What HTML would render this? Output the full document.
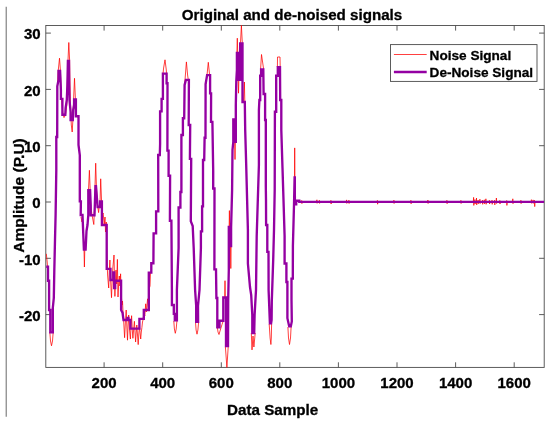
<!DOCTYPE html>
<html><head><meta charset="utf-8"><title>Original and de-noised signals</title>
<style>html,body{margin:0;padding:0;background:#fff}body{width:550px;height:424px;position:relative;overflow:hidden}</style></head>
<body>
<svg width="550" height="424" viewBox="0 0 550 424" style="position:absolute;left:0;top:0">
<defs><clipPath id="c"><rect x="45.8" y="25.0" width="498.4" height="342.9"/></clipPath></defs>
<rect x="0" y="0" width="550" height="424" fill="#fff"/>
<line x1="6.25" y1="6.8" x2="6.25" y2="416.8" stroke="#8c8c8c" stroke-width="1.3"/>
<rect x="45.8" y="25.5" width="498.4" height="341.9" fill="none" stroke="#4a4a4a" stroke-width="0.9"/>
<path d="M104.1 367.4v-5.1M104.1 25.5v5.1" stroke="#4a4a4a" stroke-width="0.9"/>
<path d="M162.7 367.4v-5.1M162.7 25.5v5.1" stroke="#4a4a4a" stroke-width="0.9"/>
<path d="M221.3 367.4v-5.1M221.3 25.5v5.1" stroke="#4a4a4a" stroke-width="0.9"/>
<path d="M279.8 367.4v-5.1M279.8 25.5v5.1" stroke="#4a4a4a" stroke-width="0.9"/>
<path d="M338.4 367.4v-5.1M338.4 25.5v5.1" stroke="#4a4a4a" stroke-width="0.9"/>
<path d="M397.0 367.4v-5.1M397.0 25.5v5.1" stroke="#4a4a4a" stroke-width="0.9"/>
<path d="M455.6 367.4v-5.1M455.6 25.5v5.1" stroke="#4a4a4a" stroke-width="0.9"/>
<path d="M514.2 367.4v-5.1M514.2 25.5v5.1" stroke="#4a4a4a" stroke-width="0.9"/>
<path d="M45.8 314.6h5.1M544.2 314.6h-5.1" stroke="#4a4a4a" stroke-width="0.9"/>
<path d="M45.8 258.3h5.1M544.2 258.3h-5.1" stroke="#4a4a4a" stroke-width="0.9"/>
<path d="M45.8 202.0h5.1M544.2 202.0h-5.1" stroke="#4a4a4a" stroke-width="0.9"/>
<path d="M45.8 145.7h5.1M544.2 145.7h-5.1" stroke="#4a4a4a" stroke-width="0.9"/>
<path d="M45.8 89.4h5.1M544.2 89.4h-5.1" stroke="#4a4a4a" stroke-width="0.9"/>
<path d="M45.8 33.1h5.1M544.2 33.1h-5.1" stroke="#4a4a4a" stroke-width="0.9"/>
<g clip-path="url(#c)" fill="none" stroke-linejoin="miter">
<polyline points="46.3,253.8 47.2,262.0 47.6,268.0" stroke="#ff0000" stroke-width="0.75"/>
<polyline points="49.8,332.0 50.5,341.0 51.5,345.8 52.5,341.0 53.2,332.0" stroke="#ff0000" stroke-width="0.75"/>
<polyline points="57.4,86.0 58.3,70.0 59.5,58.2 60.4,70.0 61.0,90.0 62.0,105.0 63.0,114.0 64.0,117.6 65.5,115.0 66.8,105.0 67.4,80.0 68.0,60.0 68.8,42.5 69.6,60.0 69.9,80.0 70.5,105.0 71.3,125.0 72.2,132.0 73.0,118.0 73.6,99.0 74.5,78.3 75.4,99.0 76.2,114.0 77.5,116.0" stroke="#ff0000" stroke-width="0.75"/>
<polyline points="81.0,217.0 82.0,222.0 82.6,215.0" stroke="#ff0000" stroke-width="0.75"/>
<polyline points="84.0,249.0 84.4,267.0 84.8,249.0" stroke="#ff0000" stroke-width="0.75"/>
<polyline points="88.3,192.0 88.6,188.0 89.4,170.3 90.1,188.0 90.7,205.0 92.0,215.0 93.8,224.5 94.6,205.0 95.0,186.0 95.7,163.2 96.4,186.0 97.3,203.0 98.6,212.6 99.6,203.0 100.1,200.0 100.7,178.8 101.5,200.0 102.0,215.0 103.2,213.0 104.2,225.0 105.0,217.0 105.5,232.0 106.3,222.0 106.7,250.0 107.6,275.0 108.7,288.0 109.3,270.0 109.9,260.0 110.6,280.0 111.5,297.7 112.2,280.0 112.8,268.0 113.4,262.0 114.0,255.0 114.4,275.0 114.9,296.4 115.5,280.0 116.0,270.0 116.7,284.0 117.4,259.4 117.7,280.0 118.0,297.0 118.6,284.0 119.3,276.0 119.9,286.0 120.6,273.8 121.3,295.0 122.0,305.0 122.5,301.0 123.0,312.0 123.5,318.0 124.6,337.7 125.4,322.0 126.2,310.0 126.9,328.0 127.5,340.2 128.1,325.0 128.7,315.0 129.5,330.0 130.4,339.0 131.0,326.0 131.6,315.7 132.3,330.0 132.9,338.3 133.6,330.0 134.4,321.3 135.0,332.0 135.6,342.0 136.2,333.0 136.8,325.0 137.5,335.0 138.2,344.6 138.8,334.0 139.5,326.0 140.1,333.0 140.7,339.0 141.3,332.0 141.9,327.6 142.5,322.0 143.0,320.0 144.0,312.0 144.8,316.0 145.7,303.8 146.3,312.0 147.6,298.8 148.4,310.0" stroke="#ff0000" stroke-width="0.75"/>
<polyline points="148.8,290.0 150.0,286.0 150.5,272.0" stroke="#ff0000" stroke-width="0.75"/>
<polyline points="162.9,75.0 163.6,68.0 165.0,59.8 166.3,70.0 166.8,80.0" stroke="#ff0000" stroke-width="0.75"/>
<polyline points="173.8,321.0 174.4,329.0 175.3,333.3 176.2,329.0 176.9,321.0" stroke="#ff0000" stroke-width="0.75"/>
<polyline points="184.6,85.0 185.4,75.0 186.4,61.9 187.6,75.0 188.6,82.0" stroke="#ff0000" stroke-width="0.75"/>
<polyline points="195.5,322.0 196.1,330.0 197.0,334.2 197.9,330.0 198.6,322.0" stroke="#ff0000" stroke-width="0.75"/>
<polyline points="206.0,84.0 207.0,75.0 208.3,62.3 209.6,75.0 210.3,80.0" stroke="#ff0000" stroke-width="0.75"/>
<polyline points="217.3,327.0 218.0,332.0 219.0,334.5 220.0,331.0 222.0,324.5 223.3,320.7" stroke="#ff0000" stroke-width="0.75"/>
<polyline points="224.7,297.5 225.0,280.7 225.3,297.5" stroke="#ff0000" stroke-width="0.75"/>
<polyline points="225.4,347.0 226.9,367.4 228.2,347.0" stroke="#ff0000" stroke-width="0.75"/>
<polyline points="229.1,230.0 229.4,210.6 229.7,230.0" stroke="#ff0000" stroke-width="0.75"/>
<polyline points="230.5,246.0 230.8,268.5 231.1,246.0" stroke="#ff0000" stroke-width="0.75"/>
<polyline points="234.7,141.9 235.0,159.5 235.3,141.9" stroke="#ff0000" stroke-width="0.75"/>
<polyline points="236.9,53.0 237.3,38.2 237.7,53.0" stroke="#ff0000" stroke-width="0.75"/>
<polyline points="238.1,79.0 238.5,93.2 238.9,79.0" stroke="#ff0000" stroke-width="0.75"/>
<polyline points="240.5,43.0 241.4,25.4 242.3,43.0" stroke="#ff0000" stroke-width="0.75"/>
<polyline points="243.4,102.0 244.4,82.0 244.8,102.0" stroke="#ff0000" stroke-width="0.75"/>
<polyline points="251.3,333.0 252.0,349.9 253.0,336.0 253.9,347.0 255.2,333.0" stroke="#ff0000" stroke-width="0.75"/>
<polyline points="260.6,69.0 261.5,54.5 263.6,69.0" stroke="#ff0000" stroke-width="0.75"/>
<polyline points="269.2,324.0 270.1,338.0 270.9,344.5 271.3,338.0 271.6,324.0" stroke="#ff0000" stroke-width="0.75"/>
<polyline points="277.4,67.0 277.5,57.0 280.0,57.0 280.2,67.0" stroke="#ff0000" stroke-width="0.75"/>
<polyline points="287.9,327.0 288.5,338.0 289.5,344.5 290.5,338.0 291.1,327.0" stroke="#ff0000" stroke-width="0.75"/>
<polyline points="294.5,178.0 294.7,147.9 294.9,178.0" stroke="#ff0000" stroke-width="0.75"/>
<polyline points="473.3,201.9 473.6,197.4 473.8,205.4 474.1,201.9" stroke="#ff0000" stroke-width="0.75"/>
<polyline points="474.6,201.9 474.9,199.5 475.1,204.0 475.4,201.9" stroke="#ff0000" stroke-width="0.75"/>
<polyline points="476.2,201.9 476.5,198.0 476.7,204.9 477.0,201.9" stroke="#ff0000" stroke-width="0.75"/>
<polyline points="477.8,201.9 478.1,200.0 478.3,203.8 478.6,201.9" stroke="#ff0000" stroke-width="0.75"/>
<polyline points="479.6,201.9 479.9,199.2 480.1,203.6 480.4,201.9" stroke="#ff0000" stroke-width="0.75"/>
<polyline points="482.2,201.9 482.5,200.2 482.7,204.3 483.0,201.9" stroke="#ff0000" stroke-width="0.75"/>
<polyline points="484.0,201.9 484.3,199.8 484.5,203.8 484.8,201.9" stroke="#ff0000" stroke-width="0.75"/>
<polyline points="485.6,201.9 485.9,198.8 486.1,204.3 486.4,201.9" stroke="#ff0000" stroke-width="0.75"/>
<polyline points="489.1,201.9 489.4,200.3 489.6,204.0 489.9,201.9" stroke="#ff0000" stroke-width="0.75"/>
<polyline points="491.8,201.9 492.0,200.2 492.2,204.3 492.5,201.9" stroke="#ff0000" stroke-width="0.75"/>
<polyline points="494.3,201.9 494.6,200.2 494.8,204.9 495.1,201.9" stroke="#ff0000" stroke-width="0.75"/>
<polyline points="496.1,201.9 496.4,198.0 496.6,203.5 496.9,201.9" stroke="#ff0000" stroke-width="0.75"/>
<polyline points="499.5,201.9 499.8,200.4 500.0,204.0 500.2,201.9" stroke="#ff0000" stroke-width="0.75"/>
<polyline points="506.4,201.9 506.7,200.5 506.9,205.4 507.2,201.9" stroke="#ff0000" stroke-width="0.75"/>
<polyline points="512.5,201.9 512.8,198.8 513.0,203.7 513.2,201.9" stroke="#ff0000" stroke-width="0.75"/>
<polyline points="531.1,201.9 531.4,199.7 531.6,203.3 531.9,201.9" stroke="#ff0000" stroke-width="0.75"/>
<polyline points="532.9,201.9 533.1,199.9 533.3,203.4 533.6,201.9" stroke="#ff0000" stroke-width="0.75"/>
<polyline points="534.2,201.9 534.5,200.3 534.7,206.6 535.0,201.9" stroke="#ff0000" stroke-width="0.75"/>
<polyline points="301.4,201.9 301.7,200.5 301.9,203.6 302.2,201.9" stroke="#ff0000" stroke-width="0.75"/>
<polyline points="316.6,201.9 316.9,199.8 317.1,203.3 317.4,201.9" stroke="#ff0000" stroke-width="0.75"/>
<polyline points="319.1,201.9 319.4,200.3 319.6,203.4 319.9,201.9" stroke="#ff0000" stroke-width="0.75"/>
<polyline points="330.6,201.9 330.9,200.4 331.1,204.0 331.4,201.9" stroke="#ff0000" stroke-width="0.75"/>
<polyline points="346.3,201.9 346.6,199.9 346.8,203.4 347.1,201.9" stroke="#ff0000" stroke-width="0.75"/>
<polyline points="348.6,201.9 348.9,200.2 349.1,203.5 349.4,201.9" stroke="#ff0000" stroke-width="0.75"/>
<polyline points="377.1,201.9 377.4,200.4 377.6,204.2 377.9,201.9" stroke="#ff0000" stroke-width="0.75"/>
<polyline points="393.6,201.9 393.9,200.2 394.1,203.5 394.4,201.9" stroke="#ff0000" stroke-width="0.75"/>
<polyline points="410.6,201.9 410.9,200.3 411.1,203.8 411.4,201.9" stroke="#ff0000" stroke-width="0.75"/>
<polyline points="427.6,201.9 427.9,200.0 428.1,203.5 428.4,201.9" stroke="#ff0000" stroke-width="0.75"/>
<polyline points="446.6,201.9 446.9,200.3 447.1,203.7 447.4,201.9" stroke="#ff0000" stroke-width="0.75"/>
<polyline points="460.6,201.9 460.9,200.4 461.1,203.5 461.4,201.9" stroke="#ff0000" stroke-width="0.75"/>
<polyline points="520.6,201.9 520.9,200.3 521.1,203.6 521.4,201.9" stroke="#ff0000" stroke-width="0.75"/>
<polyline points="46.2,266.7 48.0,266.7 48.0,280.7 49.1,280.7 49.1,310.0 50.3,310.0 50.3,332.3 52.8,332.3 52.8,308.0 53.8,298.0 54.3,271.0 55.0,240.0 55.6,215.0 56.3,170.0 56.3,137.0 57.2,137.0 57.3,86.4 58.5,80.0 58.5,70.8 60.1,70.8 60.5,80.0 60.9,90.0 60.9,98.8 62.4,98.8 62.4,114.7 65.3,114.7 65.6,108.0 66.8,100.0 67.4,85.0 67.9,60.8 69.0,60.8 69.2,85.0 69.5,100.0 70.6,112.0 70.6,120.0 72.8,120.0 73.2,110.0 74.1,105.0 74.1,99.4 75.9,99.4 75.9,116.2 78.5,116.2 78.5,145.0 79.8,155.0 79.8,201.4 80.9,201.4 80.7,215.0 82.5,215.0 83.9,249.5 85.6,249.5 86.5,231.0 87.5,225.0 88.3,215.0 88.3,190.1 90.1,190.1 90.7,205.0 90.7,215.2 94.5,215.2 95.0,200.0 95.5,186.1 96.0,186.1 97.6,207.0 100.1,207.0 100.1,201.4 101.9,201.4 101.9,225.0 106.7,225.0 106.7,268.8 110.5,268.8 110.5,280.0 113.3,280.0 113.3,272.3 114.2,272.3 114.2,288.0 115.2,288.0 115.2,280.7 121.1,280.7 121.1,310.0 122.5,312.6 123.5,320.0 127.4,320.0 127.4,317.8 128.4,317.8 128.4,320.0 130.4,320.0 130.4,328.6 139.4,328.6 139.4,318.8 143.8,318.8 143.8,310.0 148.8,310.0 148.8,272.6 151.3,272.6 151.3,263.2 153.4,263.2 153.6,233.3 156.1,233.3 156.1,211.3 158.3,211.3 158.2,155.0 159.8,155.0 160.1,144.0 160.1,111.3 161.6,111.3 161.6,98.8 162.9,98.8 162.9,73.6 166.6,73.6 166.6,83.2 167.5,83.2 167.4,150.6 168.6,150.6 168.6,175.7 170.1,175.7 169.9,220.7 171.4,220.7 171.9,290.0 171.9,305.0 173.8,305.0 173.8,313.8 174.8,313.8 174.8,320.4 176.9,320.4 176.9,290.0 178.6,248.0 178.6,207.5 180.4,207.5 180.4,192.0 181.4,192.0 181.4,135.0 182.9,135.0 182.9,118.2 184.2,118.2 184.6,85.0 185.9,79.9 188.9,79.9 188.7,125.0 190.2,125.0 189.9,158.8 191.2,158.8 190.8,221.3 192.7,226.0 193.7,248.0 195.1,290.0 196.2,306.0 196.2,321.9 198.1,321.9 198.0,306.0 199.5,290.0 200.9,248.0 200.9,231.4 202.1,231.4 202.1,206.3 203.0,206.3 203.0,160.0 204.2,160.0 204.6,137.7 205.5,137.7 205.6,84.0 207.1,75.1 210.1,75.1 210.1,93.3 211.1,93.3 211.0,121.8 212.4,121.8 213.2,171.0 213.2,188.5 214.5,188.5 214.4,269.4 216.0,269.4 216.4,298.0 217.3,298.0 217.3,327.3 219.5,327.3 219.5,320.7 223.3,320.7 223.3,297.5 226.0,297.5 226.0,346.0 228.0,346.0 228.2,300.0 228.8,270.0 228.8,227.0 230.0,227.0 230.0,246.0 231.1,246.0 231.1,227.0 232.1,190.0 232.5,150.0 233.3,141.9 233.3,119.3 234.6,119.3 234.6,141.9 235.8,141.9 235.8,105.0 236.3,81.0 236.9,70.0 236.9,53.0 238.2,53.0 238.2,79.7 240.2,79.7 240.2,43.3 242.5,43.3 242.5,102.0 244.8,102.0 245.2,130.0 246.2,165.0 247.9,230.0 247.9,263.5 250.0,287.0 251.2,295.0 252.3,315.0 252.3,333.0 254.2,333.0 254.6,315.0 256.0,290.0 256.7,236.0 258.9,165.0 258.9,110.0 259.4,100.0 260.2,100.0 260.2,75.7 261.1,75.7 261.1,69.3 263.3,69.3 263.6,94.0 265.1,94.0 265.1,120.0 265.8,120.0 265.8,186.0 266.0,200.0 266.1,225.0 267.3,225.0 267.3,251.8 268.5,251.8 268.6,290.0 269.9,323.4 271.1,323.4 271.6,320.0 271.8,301.0 273.2,260.0 274.0,230.0 274.7,190.0 274.9,111.7 276.2,111.7 276.2,75.7 277.8,75.7 277.8,67.2 280.0,67.2 280.2,100.0 281.3,100.0 281.3,130.0 282.5,168.0 283.5,200.0 284.6,236.0 284.6,263.5 286.4,263.5 286.4,282.0 287.4,282.0 287.4,318.2 289.2,326.4 290.8,326.4 291.8,321.4 291.5,300.0 291.5,278.6 292.8,278.6 292.9,246.0 294.0,205.0 294.6,177.5 294.8,177.5 294.9,204.2 296.2,204.2 296.2,200.7 299.3,200.7 299.3,201.9 544.0,201.9" stroke="#9400a2" stroke-width="2.35"/>
</g>
<g style="font-family:'Liberation Sans',sans-serif" font-weight="bold" fill="#000" stroke="#000" stroke-width="0.3">
<text x="104.1" y="388.0" font-size="15.0" text-anchor="middle">200</text>
<text x="162.7" y="388.0" font-size="15.0" text-anchor="middle">400</text>
<text x="221.3" y="388.0" font-size="15.0" text-anchor="middle">600</text>
<text x="279.8" y="388.0" font-size="15.0" text-anchor="middle">800</text>
<text x="338.4" y="388.0" font-size="15.0" text-anchor="middle">1000</text>
<text x="397.0" y="388.0" font-size="15.0" text-anchor="middle">1200</text>
<text x="455.6" y="388.0" font-size="15.0" text-anchor="middle">1400</text>
<text x="514.2" y="388.0" font-size="15.0" text-anchor="middle">1600</text>
<text x="40.7" y="320.8" font-size="15.0" text-anchor="end">-20</text>
<text x="40.7" y="264.5" font-size="15.0" text-anchor="end">-10</text>
<text x="40.7" y="208.2" font-size="15.0" text-anchor="end">0</text>
<text x="40.7" y="151.9" font-size="15.0" text-anchor="end">10</text>
<text x="40.7" y="95.6" font-size="15.0" text-anchor="end">20</text>
<text x="40.7" y="39.3" font-size="15.0" text-anchor="end">30</text>
<text x="292.0" y="20.1" font-size="15.15" text-anchor="middle">Original and de-noised signals</text>
<text x="272.6" y="414.5" font-size="15.2" text-anchor="middle">Data Sample</text>
<text transform="translate(23.8,195.5) rotate(-90)" font-size="15.55" text-anchor="middle">Amplitude (P.U)</text>
<rect x="390.5" y="44.6" width="146.5" height="36.8" fill="#fff" stroke="#4a4a4a" stroke-width="0.9"/>
<line x1="393.9" y1="54.5" x2="426.7" y2="54.5" stroke="#ff0000" stroke-width="0.75"/>
<line x1="393.9" y1="72.0" x2="426.7" y2="72.0" stroke="#9400a2" stroke-width="2.35"/>
<text x="429.6" y="59.6" font-size="13.6">Noise Signal</text>
<text x="429.6" y="77.0" font-size="13.6">De-Noise Signal</text>
</g>
</svg>
</body></html>
